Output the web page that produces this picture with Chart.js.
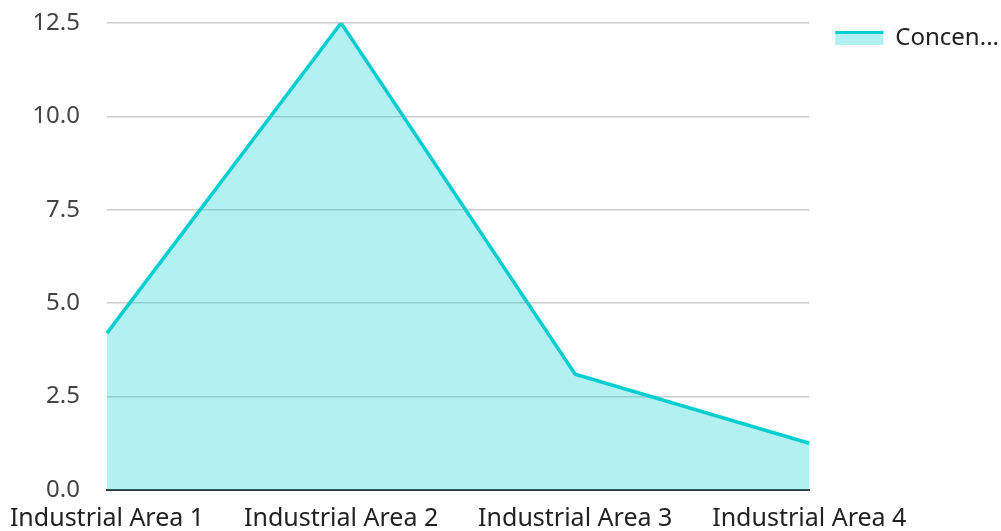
<!DOCTYPE html>
<html>
<head>
<meta charset="utf-8">
<script src="https://cdn.jsdelivr.net/npm/chart.js@4/dist/chart.umd.min.js"></script>
<style>
  html, body { margin: 0; padding: 0; background: #fff; }
  #wrap { width: 1001px; height: 531px; }
</style>
</head>
<body>
<div id="wrap"><canvas id="myChart"></canvas></div>
<script>
const areas = ["Industrial Area 1", "Industrial Area 2", "Industrial Area 3", "Industrial Area 4"];
const concentration = [4.2, 12.5, 3.1, 1.25];
const seriesName = "Concentration";

const lineColor = "rgb(0, 206, 209)";
const fillColor = "rgba(0, 206, 209, 0.3)";

Chart.defaults.font.family = "'Noto Sans', 'Open Sans', sans-serif";
Chart.defaults.font.size = 24;
Chart.defaults.color = "#444";

const data = {
    labels: areas,
    datasets: [{
        label: seriesName,
        data: concentration,
        borderColor: lineColor,
        backgroundColor: fillColor,
        borderWidth: 3.5,
        fill: "origin",
        pointRadius: 0,
        tension: 0
    }]
};

const config = {
    type: "line",
    data,
    options: {
        responsive: true,
        maintainAspectRatio: false,
        animation: false,
        layout: {
            padding: { top: 0, left: 0, right: -8, bottom: 0 }
        },
        plugins: {
            legend: {
                position: "right",
                align: "start",
                labels: {
                    boxWidth: 48,
                    boxHeight: 14,
                    padding: 26,
                    color: "#222",
                    // legend text is clipped in the original
                    generateLabels: (chart) => {
                        const items = Chart.defaults.plugins.legend.labels.generateLabels(chart);
                        items.forEach(it => {
                            if (it.text.length > 6) it.text = it.text.slice(0, 6) + "...";
                            it.lineWidth = 0;
                        });
                        return items;
                    }
                }
            },
            tooltip: { enabled: false }
        },
        scales: {
            x: {
                offset: false,
                grid: { display: false, drawTicks: false },
                border: { color: "#333", width: 2 },
                ticks: { color: "#222", padding: 14, maxRotation: 0, autoSkip: false, font: { size: 25 } },
                afterFit: (scale) => {
                    scale.height = 41;
                    scale.paddingLeft = 0;
                    scale.paddingRight = 0;
                }
            },
            y: {
                min: 0,
                max: 12.5,
                grid: { color: "#ccc", lineWidth: 1.5, drawTicks: false },
                border: { display: false },
                ticks: {
                    stepSize: 2.5,
                    padding: 27,
                    callback: (v) => Number(v).toFixed(1)
                },
                afterFit: (scale) => {
                    scale.width = 107;
                    scale.paddingTop = 23;
                    scale.paddingBottom = 0;
                }
            }
        }
    }
};

// legend swatch: thick top border over light fill
const legendSwatch = {
    id: "legendSwatch",
    afterDraw(chart) {
        const lg = chart.legend;
        if (!lg || !lg.legendHitBoxes.length) return;
        const ctx = chart.ctx;
        const hb = lg.legendHitBoxes[0];
        const bw = 48, bh = 14;
        const y = hb.top + (hb.height - bh) / 2;
        ctx.save();
        ctx.fillStyle = "#fff";
        ctx.fillRect(hb.left, y - 1, bw, bh + 2);
        ctx.fillStyle = fillColor;
        ctx.fillRect(hb.left, y, bw, bh);
        ctx.fillStyle = lineColor;
        ctx.fillRect(hb.left, y, bw, 3);
        ctx.restore();
    }
};

const ctx = document.getElementById("myChart");
const myChart = new Chart(ctx, { ...config, plugins: [legendSwatch] });
</script>
</body>
</html>
